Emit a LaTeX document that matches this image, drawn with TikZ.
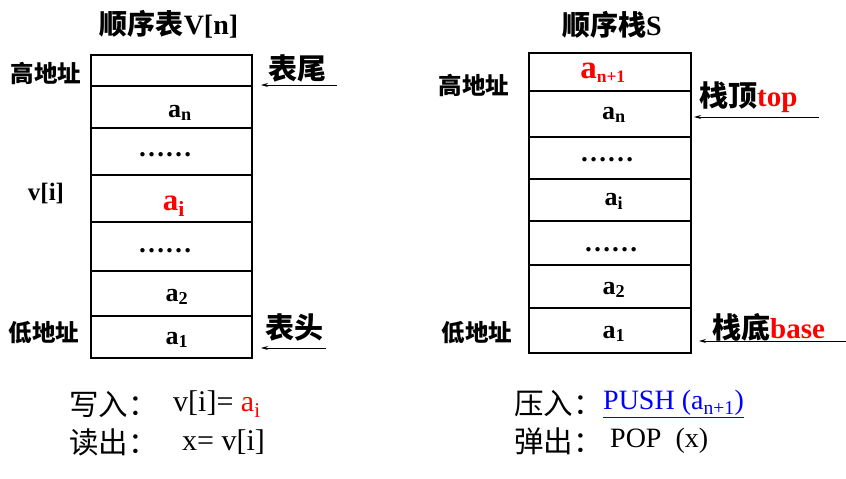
\documentclass[tikz,border=0pt]{standalone}
\usepackage{fontspec}
\setmainfont{Liberation Serif}
\newfontfamily\cjk{Noto Sans CJK SC}
\usetikzlibrary{arrows.meta}
\tikzset{
  outerbox/.style={line width=2.6pt},
  rowline/.style={line width=1.1pt},
  cjkbold/.style={font=\cjk\bfseries\fontsize{23.5}{24}\selectfont, inner sep=0pt},
  titletext/.style={font=\cjk\bfseries\fontsize{28}{28}\selectfont, inner sep=0pt},
  sidetext/.style={font=\cjk\bfseries\fontsize{29}{29}\selectfont, inner sep=0pt},
  celltext/.style={font=\bfseries\fontsize{26}{26}\selectfont, inner sep=0pt},
  redcell/.style={font=\bfseries\fontsize{31}{31}\selectfont, text=red, inner sep=0pt},
  dotstext/.style={font=\bfseries\fontsize{27}{27}\selectfont, inner sep=0pt},
  cjkbottom/.style={font=\cjk\fontsize{29.5}{30}\selectfont, inner sep=0pt, anchor=west},
  latbottom/.style={font=\fontsize{30}{30}\selectfont, inner sep=0pt, anchor=west},
  ptr/.style={line width=0.9pt, -{Stealth[length=7pt,width=4pt]}},
}
\newcommand{\sbx}[1]{\textsubscript{#1}}
\begin{document}
\begin{tikzpicture}[x=1pt,y=-1pt]
\useasboundingbox (0,0) rectangle (846,479);
% ---------- left table ----------
\node[titletext] (ltitle) at (169,24) {顺序表\fontspec{Liberation Serif}V[n]};
\foreach \yy in {86,128,175,222,271,316}{
  \draw[rowline] (91,\yy) -- (252,\yy);
}
\draw[outerbox] (91,55) rectangle (252,358);
\node[celltext] (lan) at (180,113) {a\sbx{n}};
\node[dotstext] (ld1) at (165,155) {……};
\node[redcell] (lai) at (174,206) {a\sbx{i}};
\node[dotstext] (ld2) at (165,251) {……};
\node[celltext] (la2) at (177,297) {a\sbx{2}};
\node[celltext] (la1) at (177,340) {a\sbx{1}};
\node[cjkbold] (lhigh) at (46,73) {高地址};
\node[font=\bfseries\fontsize{25}{25}\selectfont, inner sep=0pt] (lvi) at (46,193) {v[i]};
\node[cjkbold] (llow) at (44,333) {低地址};
\node[sidetext] (ltail) at (297,68) {表尾};
\coordinate (ltails) at (337,85);
\coordinate (ltaile) at (261,85);
\draw[ptr] (ltails) -- (ltaile);
\node[sidetext] (lhead) at (294,327) {表头};
\coordinate (lheads) at (326,348);
\coordinate (lheade) at (261,348);
\draw[ptr] (lheads) -- (lheade);
% ---------- right table ----------
\node[titletext] (rtitle) at (612,25) {顺序栈\fontspec{Liberation Serif}S};
\foreach \yy in {91,137,179,221,265,308}{
  \draw[rowline] (529,\yy) -- (691,\yy);
}
\draw[outerbox] (529,53) rectangle (691,353);
\node[font=\bfseries\fontsize{25}{25}\selectfont, text=red, inner sep=0pt] (ran1) at (603,73) {{\fontsize{33}{33}\selectfont a}\sbx{n+1}};
\node[celltext] (ran) at (614,115) {a\sbx{n}};
\node[dotstext] (rd1) at (607,160) {……};
\node[celltext] (rai) at (614,201) {a\sbx{i}};
\node[dotstext] (rd2) at (611,250) {……};
\node[celltext] (ra2) at (614,290) {a\sbx{2}};
\node[celltext] (ra1) at (614,334) {a\sbx{1}};
\node[cjkbold] (rhigh) at (474,85) {高地址};
\node[cjkbold] (rlow) at (477,333) {低地址};
\node[sidetext, anchor=west] (rtop) at (699,97) {栈顶\fontspec{Liberation Serif}\textcolor{red}{top}};
\coordinate (rtops) at (819,117);
\coordinate (rtope) at (694,117);
\draw[ptr] (rtops) -- (rtope);
\node[sidetext, anchor=west] (rbase) at (712,327) {栈底\fontspec{Liberation Serif}\textcolor{red}{base}};
\coordinate (rbases) at (846,341);
\coordinate (rbasee) at (699,341);
\draw[ptr] (rbases) -- (rbasee);
% ---------- bottom text ----------
\node[cjkbottom] (lwl) at (69,404) {写入：};
\node[latbottom] (lw) at (173,404) {v[i]= \textcolor{red}{a\sbx{i}}};
\node[cjkbottom] (lrl) at (69,442) {读出：};
\node[latbottom] (lr) at (182,442) {x= v[i]};
\node[cjkbottom] (rpl) at (514,404) {压入：};
\node[latbottom, font=\fontsize{28}{28}\selectfont] (rp) at (603,404) {\textcolor{blue}{\underline{PUSH (a\sbx{n+1})}}};
\node[cjkbottom] (rql) at (514,441) {弹出：};
\node[latbottom, font=\fontsize{28}{28}\selectfont] (rq) at (610,441) {POP\ \ (x)};
\end{tikzpicture}
\end{document}
